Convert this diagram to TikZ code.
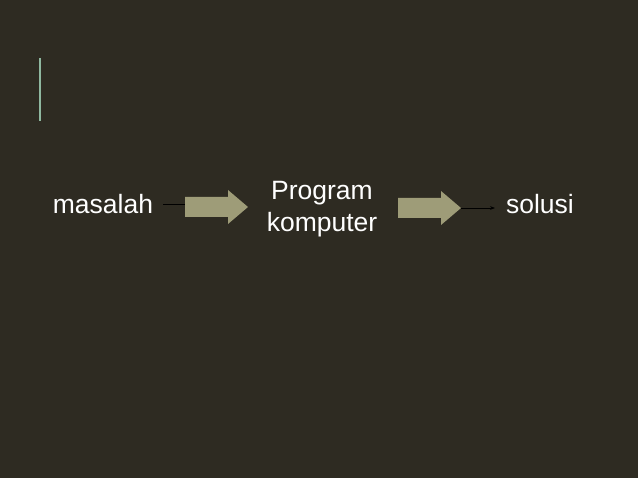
\documentclass[tikz,border=0pt]{standalone}
\usepackage{fontspec}
\setmainfont{Liberation Sans}
\usetikzlibrary{arrows.meta}
\definecolor{bg}{HTML}{2E2B22}
\definecolor{blk}{HTML}{9E9C78}
\definecolor{bar}{HTML}{8FB8A0}
\begin{document}
\begin{tikzpicture}[x=1pt,y=-1pt,
  lbl/.style={text=white,font=\fontsize{26.5}{32}\selectfont,inner sep=0pt,align=center},
  blockarrow/.pic={\fill[blk] (0,-10) -- (43,-10) -- (43,-17) -- (63,0) -- (43,17) -- (43,10) -- (0,10) -- cycle;}]
\fill[bg] (0,0) rectangle (638,478);
\useasboundingbox (0,0) rectangle (638,478);
\draw[bar,line width=1.2pt] (40,58) -- (40,121);
\node[lbl] (m) at (103,204) {masalah};
\node[lbl] (p) at (322,209) {Program\\komputer};
\node[lbl] (s) at (540,204) {solusi};
\pic at (185,207) {blockarrow};
\pic at (398,208) {blockarrow};
\coordinate (a1) at (185,204);
\coordinate (a2) at (461,208);
\coordinate (l1) at (163,204);
\coordinate (e2) at (495,208);
\draw[black,line width=0.8pt] (l1) -- (a1);
\draw[black,line width=0.8pt,-{Stealth[length=5pt]}] (a2) -- (e2);
\end{tikzpicture}
\end{document}
